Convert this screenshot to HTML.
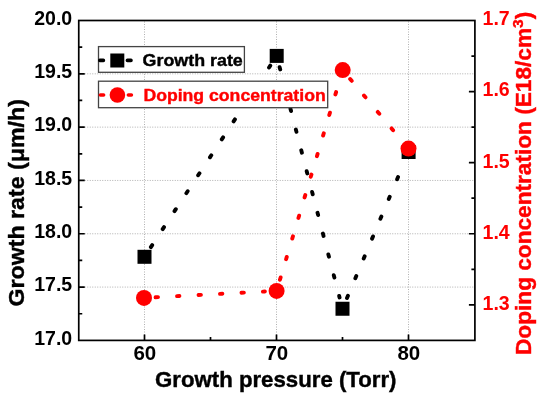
<!DOCTYPE html><html><head><meta charset="utf-8"><style>html,body{margin:0;padding:0;background:#fff;overflow:hidden}svg{display:block}text{font-family:"Liberation Sans", "DejaVu Sans", sans-serif;font-weight:bold;fill:#000;stroke:#000;stroke-width:0.4px}text.r{fill:#f00;stroke:#f00}text.t{stroke-width:0}</style></head><body>
<svg width="550" height="400" viewBox="0 0 550 400">
<rect width="550" height="400" fill="#fff"/>
<g stroke="#b0b0b0" stroke-width="1" stroke-dasharray="1 1.5"><line x1="144.50" y1="21.50" x2="144.50" y2="339.40"/><line x1="276.50" y1="21.50" x2="276.50" y2="339.40"/><line x1="408.50" y1="21.50" x2="408.50" y2="339.40"/><line x1="79.75" y1="73.82" x2="473.90" y2="73.82"/><line x1="79.75" y1="127.13" x2="473.90" y2="127.13"/><line x1="79.75" y1="180.45" x2="473.90" y2="180.45"/><line x1="79.75" y1="233.77" x2="473.90" y2="233.77"/><line x1="79.75" y1="287.08" x2="473.90" y2="287.08"/></g>
<path d="M150.88 247.11L152.20 245.10M162.70 229.15L164.01 227.14M174.51 211.19L175.83 209.18M186.33 193.23L187.65 191.22M198.15 175.27L199.47 173.26M209.97 157.31L211.29 155.30M221.79 139.35L223.11 137.34M233.61 121.39L234.93 119.38M245.43 103.43L246.74 101.42M257.24 85.47L258.56 83.46M269.06 67.51L270.27 65.67M279.62 67.13L280.23 69.45M285.04 87.93L285.64 90.26M290.45 108.74L291.06 111.06M295.87 129.55L296.47 131.87M301.28 150.35L301.88 152.68M306.69 171.16L307.30 173.48M312.11 191.97L312.71 194.29M317.52 212.78L318.13 215.10M322.94 233.58L323.54 235.90M328.35 254.39L328.96 256.71M333.77 275.20L334.37 277.52M339.18 296.00L339.55 297.43M347.01 298.06L347.94 295.85M355.36 278.25L356.29 276.04M363.72 258.44L364.65 256.23M372.07 238.63L373.00 236.42M380.42 218.82L381.36 216.61M388.78 199.01L389.71 196.80M397.13 179.20L398.06 176.99" stroke="#000" stroke-width="3.90" stroke-linecap="round" fill="none"/>
<rect x="137.50" y="249.80" width="14" height="14" fill="#000"/>
<rect x="269.70" y="48.90" width="14" height="14" fill="#000"/>
<rect x="335.50" y="301.75" width="14" height="14" fill="#000"/>
<rect x="401.60" y="145.00" width="14" height="14" fill="#000"/>
<path d="M155.58 297.29L157.98 297.16M177.05 296.16L179.45 296.03M198.52 295.02L200.92 294.90M219.99 293.89L222.39 293.76M241.46 292.75L243.86 292.63M262.93 291.62L264.92 291.52M279.93 279.79L280.62 277.49M286.09 259.19L286.78 256.89M292.26 238.59L292.95 236.29M298.42 218.00L299.11 215.70M304.59 197.40L305.28 195.10M310.76 176.80L311.45 174.50M316.92 156.21L317.61 153.91M323.09 135.61L323.78 133.31M329.25 115.01L329.94 112.71M335.42 94.42L336.11 92.12M350.15 78.99L351.69 80.83M363.96 95.47L365.50 97.31M377.77 111.94L379.32 113.78M391.59 128.42L393.13 130.26" stroke="#f00" stroke-width="3.90" stroke-linecap="round" fill="none"/>
<circle cx="144.00" cy="297.90" r="8" fill="#f00"/>
<circle cx="276.60" cy="290.90" r="8" fill="#f00"/>
<circle cx="342.70" cy="70.10" r="8" fill="#f00"/>
<circle cx="408.50" cy="148.60" r="8" fill="#f00"/>
<rect x="78.75" y="20.50" width="396.15" height="319.90" fill="none" stroke="#000" stroke-width="1.7"/>
<path d="M78.75 47.16H82.25M78.75 73.82H84.75M78.75 100.47H82.25M78.75 127.13H84.75M78.75 153.79H82.25M78.75 180.45H84.75M78.75 207.11H82.25M78.75 233.77H84.75M78.75 260.42H82.25M78.75 287.08H84.75M78.75 313.74H82.25M474.90 56.04H471.40M474.90 91.59H468.90M474.90 127.13H471.40M474.90 162.68H468.90M474.90 198.22H471.40M474.90 233.77H468.90M474.90 269.31H471.40M474.90 304.86H468.90M144.50 340.40V334.40M210.50 340.40V336.90M276.50 340.40V334.40M342.50 340.40V336.90M408.50 340.40V334.40" stroke="#000" stroke-width="1.7" fill="none"/>
<text x="72.2" y="24.80" font-size="20.5" class="t" text-anchor="end" textLength="38.0" lengthAdjust="spacingAndGlyphs">20.0</text>
<text x="72.2" y="78.12" font-size="20.5" class="t" text-anchor="end" textLength="38.0" lengthAdjust="spacingAndGlyphs">19.5</text>
<text x="72.2" y="131.43" font-size="20.5" class="t" text-anchor="end" textLength="38.0" lengthAdjust="spacingAndGlyphs">19.0</text>
<text x="72.2" y="184.75" font-size="20.5" class="t" text-anchor="end" textLength="38.0" lengthAdjust="spacingAndGlyphs">18.5</text>
<text x="72.2" y="238.07" font-size="20.5" class="t" text-anchor="end" textLength="38.0" lengthAdjust="spacingAndGlyphs">18.0</text>
<text x="72.2" y="291.38" font-size="20.5" class="t" text-anchor="end" textLength="38.0" lengthAdjust="spacingAndGlyphs">17.5</text>
<text x="72.2" y="344.70" font-size="20.5" class="t" text-anchor="end" textLength="38.0" lengthAdjust="spacingAndGlyphs">17.0</text>
<text x="482.5" y="25.40" font-size="20.5" class="r t" textLength="27.2" lengthAdjust="spacingAndGlyphs">1.7</text>
<text x="482.5" y="96.49" font-size="20.5" class="r t" textLength="27.2" lengthAdjust="spacingAndGlyphs">1.6</text>
<text x="482.5" y="167.58" font-size="20.5" class="r t" textLength="27.2" lengthAdjust="spacingAndGlyphs">1.5</text>
<text x="482.5" y="238.67" font-size="20.5" class="r t" textLength="27.2" lengthAdjust="spacingAndGlyphs">1.4</text>
<text x="482.5" y="309.76" font-size="20.5" class="r t" textLength="27.2" lengthAdjust="spacingAndGlyphs">1.3</text>
<text x="144.80" y="360.2" font-size="20.5" class="t" text-anchor="middle">60</text>
<text x="276.80" y="360.2" font-size="20.5" class="t" text-anchor="middle">70</text>
<text x="408.80" y="360.2" font-size="20.5" class="t" text-anchor="middle">80</text>
<text x="155.0" y="387.3" font-size="22" textLength="241.5" lengthAdjust="spacingAndGlyphs">Growth pressure (Torr)</text>
<text transform="translate(24 306.6) rotate(-90)" x="0" y="0" font-size="22" textLength="207.5" lengthAdjust="spacingAndGlyphs">Growth rate (μm/h)</text>
<text transform="translate(530.8 355.0) rotate(-90)" x="0" y="0" font-size="22" class="r" textLength="343.2" lengthAdjust="spacingAndGlyphs">Doping concentration (E18/cm<tspan font-size="15" dy="-8">3</tspan><tspan dy="8">)</tspan></text>
<rect x="98.5" y="46.6" width="145.9" height="25.7" fill="#fff" stroke="#444" stroke-width="1.3"/>
<path d="M99.8 60.4H103.4M127.4 60.4H131" stroke="#000" stroke-width="3.6" stroke-linecap="round"/>
<rect x="110.3" y="53.5" width="14" height="14" fill="#000"/>
<text x="142.6" y="65.8" font-size="17" textLength="100.2" lengthAdjust="spacingAndGlyphs">Growth rate</text>
<rect x="98.5" y="81.2" width="229.2" height="26.5" fill="#fff" stroke="#444" stroke-width="1.3"/>
<path d="M100.4 95H103.6M128.4 95H131.4" stroke="#f00" stroke-width="3.6" stroke-linecap="round"/>
<circle cx="117.4" cy="95" r="7.8" fill="#f00"/>
<text x="143.4" y="101.4" font-size="17" class="r" textLength="182.3" lengthAdjust="spacingAndGlyphs">Doping concentration</text>
</svg></body></html>
